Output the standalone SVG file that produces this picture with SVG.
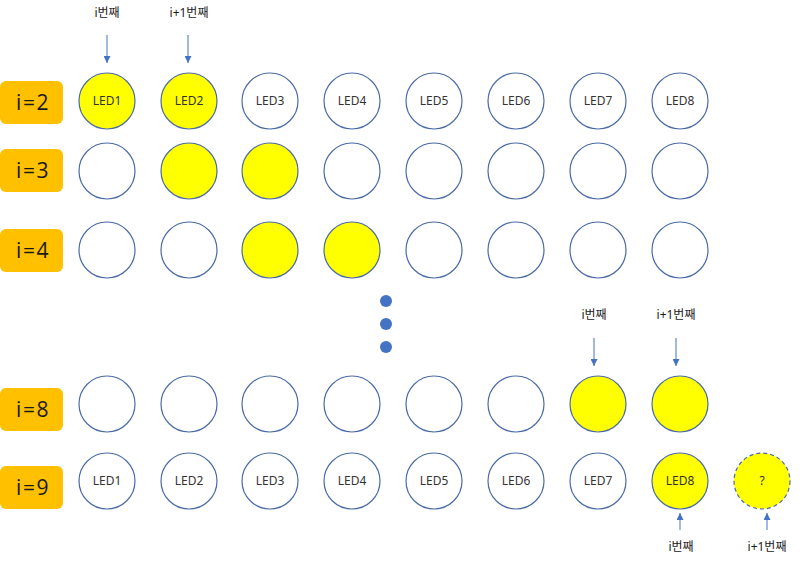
<svg xmlns="http://www.w3.org/2000/svg" width="800" height="563" viewBox="0 0 800 563">
<defs>
<style>
.led{fill:#fff;stroke:#4a6aa5;stroke-width:1.2}
.on{fill:#ffff00}
.lbl{fill:#ffc000}
.lt{font-family:"Open Sans","Noto Sans",sans-serif;font-size:21px;fill:#1a1a1a;text-anchor:middle;letter-spacing:1.5px}
.t{font-family:"Noto Sans","Noto Sans CJK KR",sans-serif;font-size:12px;fill:#333;text-anchor:middle}
.k{font-family:"Noto Sans","Noto Sans CJK KR",sans-serif;font-size:12px;fill:#1a1a1a;text-anchor:middle}
.ar{stroke:#4472c4;stroke-width:1;fill:none}
.dot{fill:#4472c4}
</style>
<marker id="ah" viewBox="0 0 10 10" refX="10" refY="5" markerWidth="7" markerHeight="7" orient="auto" markerUnits="userSpaceOnUse">
<path d="M0,0 L10,5 L0,10 z" fill="#4472c4"/>
</marker>
</defs>
<rect width="800" height="563" fill="#fff"/>

<g id="labels">
<g id="row-i2"><rect class="lbl" x="0" y="81" width="63" height="43" rx="6"/><text class="lt" x="33" y="110">i=2</text></g>
<g id="row-i3"><rect class="lbl" x="0" y="149" width="63" height="43" rx="6"/><text class="lt" x="33" y="178">i=3</text></g>
<g id="row-i4"><rect class="lbl" x="0" y="229" width="63" height="43" rx="6"/><text class="lt" x="33" y="258">i=4</text></g>
<g id="row-i8"><rect class="lbl" x="0" y="388" width="63" height="43" rx="6"/><text class="lt" x="33" y="417">i=8</text></g>
<g id="row-i9"><rect class="lbl" x="0" y="466" width="63" height="43" rx="6"/><text class="lt" x="33" y="495">i=9</text></g>
</g>

<g id="r2">
<g id="r2-1"><circle class="led on" cx="107" cy="101" r="28"/><text class="t" x="107" y="105">LED1</text></g>
<g id="r2-2"><circle class="led on" cx="189" cy="101" r="28"/><text class="t" x="189" y="105">LED2</text></g>
<g id="r2-3"><circle class="led" cx="270" cy="101" r="28"/><text class="t" x="270" y="105">LED3</text></g>
<g id="r2-4"><circle class="led" cx="352" cy="101" r="28"/><text class="t" x="352" y="105">LED4</text></g>
<g id="r2-5"><circle class="led" cx="434" cy="101" r="28"/><text class="t" x="434" y="105">LED5</text></g>
<g id="r2-6"><circle class="led" cx="516" cy="101" r="28"/><text class="t" x="516" y="105">LED6</text></g>
<g id="r2-7"><circle class="led" cx="598" cy="101" r="28"/><text class="t" x="598" y="105">LED7</text></g>
<g id="r2-8"><circle class="led" cx="680" cy="101" r="28"/><text class="t" x="680" y="105">LED8</text></g>
</g>

<g id="r3">
<circle id="r3-1" class="led" cx="107" cy="171" r="28"/>
<circle id="r3-2" class="led on" cx="189" cy="171" r="28"/>
<circle id="r3-3" class="led on" cx="270" cy="171" r="28"/>
<circle id="r3-4" class="led" cx="352" cy="171" r="28"/>
<circle id="r3-5" class="led" cx="434" cy="171" r="28"/>
<circle id="r3-6" class="led" cx="516" cy="171" r="28"/>
<circle id="r3-7" class="led" cx="598" cy="171" r="28"/>
<circle id="r3-8" class="led" cx="680" cy="171" r="28"/>
</g>

<g id="r4">
<circle id="r4-1" class="led" cx="107" cy="250" r="28"/>
<circle id="r4-2" class="led" cx="189" cy="250" r="28"/>
<circle id="r4-3" class="led on" cx="270" cy="250" r="28"/>
<circle id="r4-4" class="led on" cx="352" cy="250" r="28"/>
<circle id="r4-5" class="led" cx="434" cy="250" r="28"/>
<circle id="r4-6" class="led" cx="516" cy="250" r="28"/>
<circle id="r4-7" class="led" cx="598" cy="250" r="28"/>
<circle id="r4-8" class="led" cx="680" cy="250" r="28"/>
</g>

<g id="ellipsis">
<circle class="dot" cx="386" cy="301" r="6"/>
<circle class="dot" cx="386" cy="324" r="6"/>
<circle class="dot" cx="386" cy="347" r="6"/>
</g>

<g id="r8">
<circle id="r8-1" class="led" cx="107" cy="404" r="28"/>
<circle id="r8-2" class="led" cx="189" cy="404" r="28"/>
<circle id="r8-3" class="led" cx="270" cy="404" r="28"/>
<circle id="r8-4" class="led" cx="352" cy="404" r="28"/>
<circle id="r8-5" class="led" cx="434" cy="404" r="28"/>
<circle id="r8-6" class="led" cx="516" cy="404" r="28"/>
<circle id="r8-7" class="led on" cx="598" cy="404" r="28"/>
<circle id="r8-8" class="led on" cx="680" cy="404" r="28"/>
</g>

<g id="r9">
<g id="r9-1"><circle class="led" cx="107" cy="481" r="28"/><text class="t" x="107" y="485">LED1</text></g>
<g id="r9-2"><circle class="led" cx="189" cy="481" r="28"/><text class="t" x="189" y="485">LED2</text></g>
<g id="r9-3"><circle class="led" cx="270" cy="481" r="28"/><text class="t" x="270" y="485">LED3</text></g>
<g id="r9-4"><circle class="led" cx="352" cy="481" r="28"/><text class="t" x="352" y="485">LED4</text></g>
<g id="r9-5"><circle class="led" cx="434" cy="481" r="28"/><text class="t" x="434" y="485">LED5</text></g>
<g id="r9-6"><circle class="led" cx="516" cy="481" r="28"/><text class="t" x="516" y="485">LED6</text></g>
<g id="r9-7"><circle class="led" cx="598" cy="481" r="28"/><text class="t" x="598" y="485">LED7</text></g>
<g id="r9-8"><circle class="led on" cx="680" cy="481" r="28"/><text class="t" x="680" y="485">LED8</text></g>
<g id="r9-q"><circle class="led on" cx="762" cy="481" r="28" stroke-dasharray="4,3"/><text class="t" x="762" y="485">?</text></g>
</g>

<g id="pointer-labels">
<text class="k" x="107" y="17">i번째</text>
<text class="k" x="189" y="17">i+1번째</text>
<text class="k" x="594" y="319">i번째</text>
<text class="k" x="676" y="319">i+1번째</text>
<text class="k" x="681" y="551">i번째</text>
<text class="k" x="767" y="551">i+1번째</text>
</g>

<g id="connectors">
<line class="ar" x1="107" y1="35" x2="107" y2="63" marker-end="url(#ah)"/>
<line class="ar" x1="188" y1="35" x2="188" y2="63" marker-end="url(#ah)"/>
<line class="ar" x1="594" y1="338" x2="594" y2="366" marker-end="url(#ah)"/>
<line class="ar" x1="676" y1="338" x2="676" y2="366" marker-end="url(#ah)"/>
<line class="ar" x1="680" y1="530" x2="680" y2="513" marker-end="url(#ah)"/>
<line class="ar" x1="767" y1="530" x2="767" y2="513" marker-end="url(#ah)"/>
</g>
</svg>
